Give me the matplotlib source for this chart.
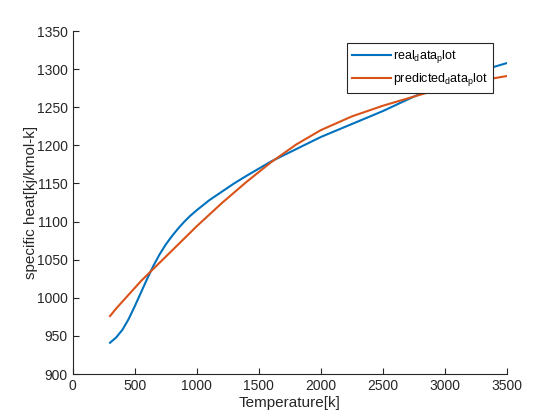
import matplotlib
matplotlib.use('Agg')
import matplotlib.pyplot as plt

plt.rcParams['font.family'] = ['Liberation Sans', 'DejaVu Sans']
plt.rcParams['mathtext.fontset'] = 'custom'
plt.rcParams['mathtext.rm'] = 'Liberation Sans'

# values
temperature = [300, 350, 400, 450, 500, 550, 600, 650, 700, 750, 800, 850,
               900, 950, 1000, 1100, 1200, 1300, 1400, 1600, 1800, 2000,
               2250, 2500, 2750, 3000, 3250, 3500]
real_cp = [941, 948, 958, 972, 989, 1007, 1025, 1042, 1057, 1070, 1081, 1091,
           1100, 1108, 1115, 1128, 1139, 1150, 1160, 1179, 1195, 1211,
           1228, 1245, 1264, 1282, 1296, 1308]
predicted_cp = [976, 986, 995, 1004, 1013, 1022, 1030, 1038, 1046, 1054, 1062, 1070,
                1078, 1086, 1094, 1109, 1124, 1138, 1152, 1178, 1201, 1220,
                1238, 1252, 1264, 1276, 1284, 1291]

x_ticks = [0, 500, 1000, 1500, 2000, 2500, 3000, 3500]
y_ticks = [900, 950, 1000, 1050, 1100, 1150, 1200, 1250, 1300, 1350]

fig = plt.figure(figsize=(5.6, 4.2), dpi=100)
ax = fig.add_axes([0.130, 0.1095, 0.775, 0.8165])

ax.plot(temperature, real_cp, color='#0072BD', lw=1.5,
        label=r'real$_\mathrm{d}$ata$_\mathrm{p}$lot')
ax.plot(temperature, predicted_cp, color='#D95319', lw=1.5,
        label=r'predicted$_\mathrm{d}$ata$_\mathrm{p}$lot')

ax.set_xlim(0, 3500)
ax.set_ylim(900, 1350)
ax.set_xticks(x_ticks)
ax.set_yticks(y_ticks)
ax.spines['top'].set_visible(False)
ax.spines['right'].set_visible(False)
for s in ['left', 'bottom']:
    ax.spines[s].set_color('#262626')
    ax.spines[s].set_linewidth(0.8)
ax.tick_params(direction='in', length=4, width=0.8, colors='#262626',
               labelsize=10)

ax.set_xlabel('Temperature[k]', fontsize=11, color='#262626', labelpad=2)
ax.set_ylabel('specific heat[kj/kmol-k]', fontsize=11, color='#262626', labelpad=-1)

leg = ax.legend(loc='upper right', bbox_to_anchor=(0.968, 0.965), fontsize=9,
                fancybox=False, framealpha=1, edgecolor='#262626',
                borderpad=0.4, handlelength=3.1, handletextpad=0.2,
                labelspacing=0.5, borderaxespad=0)
leg.get_frame().set_linewidth(0.8)

fig.savefig('out.png', dpi=100)
